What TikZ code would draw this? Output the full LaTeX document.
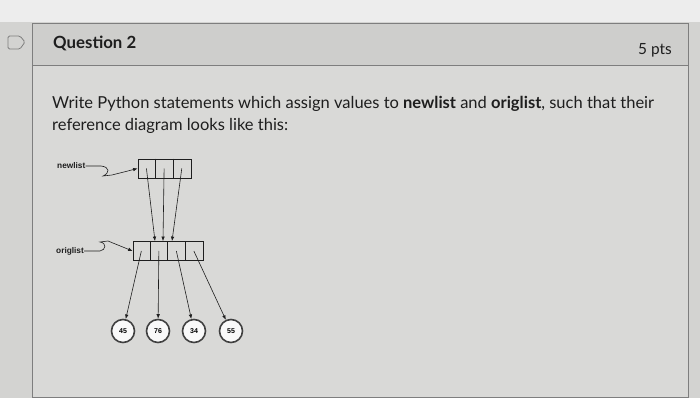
\documentclass[tikz,border=0pt]{standalone}
\usepackage{fontspec}
\setmainfont{Lato}
\newfontfamily\diagfont{Liberation Sans}
\usetikzlibrary{arrows.meta}
\definecolor{pagegray}{HTML}{D3D3D1}
\definecolor{cardgray}{HTML}{D9D9D7}
\definecolor{headgray}{HTML}{CECECC}
\definecolor{edgegray}{HTML}{7E7E7E}
\definecolor{inkdark}{HTML}{1E1E1E}
\begin{document}
\begin{tikzpicture}[x=1pt, y=-1pt,
    cellbox/.style={draw=inkdark, line width=0.8pt, inner sep=0pt, minimum height=19pt},
    valnode/.style={circle, draw=inkdark!85, line width=1.6pt, fill=white!85!cardgray, minimum size=23pt, inner sep=0pt,
        font=\diagfont\bfseries\fontsize{7}{8}\selectfont},
    varname/.style={font=\diagfont\bfseries\fontsize{8.3}{10}\selectfont, text=inkdark, inner sep=0pt},
    ref/.style={-{Latex[length=4.5pt, width=3.5pt]}, line width=0.6pt, draw=inkdark}]

        % Page, card and header
        \fill[pagegray] (0,0) rectangle (700,403);
        \useasboundingbox (0,0) rectangle (700,403);
        \fill[white!60!pagegray] (0,0) rectangle (700,22);
        \fill[white] (0,398) rectangle (700,403);
        \draw[edgegray, fill=cardgray, line width=0.8pt] (32,23) rectangle (688,397);
        \draw[edgegray, fill=headgray, line width=0.8pt] (32,23) rectangle (688,65);
        \draw[edgegray, line width=0.8pt, rounded corners=1.5pt] (8,36) -- (20,36) -- (25,42) -- (20,49) -- (8,49) -- cycle;

        % Texts
        \node[anchor=base west, font=\bfseries\fontsize{16.8}{20}\selectfont, text=inkdark, inner sep=0pt] (qtitle) at (53,49) {Question 2};
        \node[anchor=base east, font=\fontsize{15.4}{18}\selectfont, text=inkdark, inner sep=0pt] (qpts) at (672,55) {5 pts};
        \node[anchor=base west, font=\fontsize{16.5}{20}\selectfont, text=inkdark, inner sep=0pt] (qline1) at (52,109)
            {Write Python statements which assign values to \textbf{newlist} and \textbf{origlist}, such that their};
        \node[anchor=base west, font=\fontsize{16.5}{20}\selectfont, text=inkdark, inner sep=0pt] (qline2) at (52,131)
            {reference diagram looks like this:};

        % Lists
        \node[varname, anchor=west] (newlbl)  at (57,166) {newlist};
        \node[varname, anchor=west] (origlbl) at (56,251) {origlist};
        \node[cellbox, minimum width=53pt] (newbox)  at (164.5,168.5) {};
        \node[cellbox, minimum width=70pt] (origbox) at (168,251) {};
        \foreach \i in {1,2}
            \draw[inkdark, line width=0.8pt] ([xshift=\i*17.67pt]newbox.north west) -- ([xshift=\i*17.67pt]newbox.south west);
        \foreach \i in {1,2,3}
            \draw[inkdark, line width=0.8pt] ([xshift=\i*17.5pt]origbox.north west) -- ([xshift=\i*17.5pt]origbox.south west);
        \foreach \i in {1,2,3}
            \coordinate (nc\i) at ([xshift=\i*17.67pt-8.83pt]newbox.west);
        \foreach \i in {1,2,3,4}
            \coordinate (oc\i) at ([xshift=\i*17.5pt-8.75pt]origbox.west);

        % Values
        \node[valnode] (v45) at (123,331) {45};
        \node[valnode] (v76) at (158,331) {76};
        \node[valnode] (v34) at (194,331) {34};
        \node[valnode] (v55) at (231,331) {55};

        % References
        \draw[ref] (newlbl.east) -- (101,166) .. controls (110,167) and (110,173) .. (103,176) -- (112,175) -- (newbox.west);
        \draw[ref] (origlbl.east) -- (100,251) .. controls (106,250) and (107,243) .. (100,242) -- (108,241) -- (origbox.west);

        \draw[ref] (nc1) -- ([xshift=-13pt]origbox.north);
        \draw[ref] (nc2) -- ([xshift=-5pt]origbox.north);
        \draw[ref] (nc3) -- ([xshift=4pt]origbox.north);

        \draw[ref] (oc1) -- (v45);
        \draw[ref] (oc2) -- (v76);
        \draw[ref] (oc3) -- (v34);
        \draw[ref] (oc4) -- (v55);
    \end{tikzpicture}
\end{document}
